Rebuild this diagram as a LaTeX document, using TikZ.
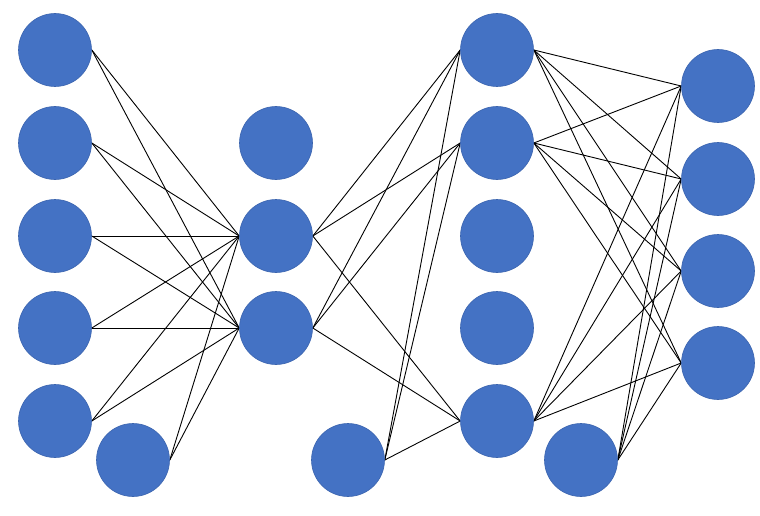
\documentclass[tikz,border=0pt]{standalone}
\usetikzlibrary{backgrounds}
\definecolor{nfill}{HTML}{4472C4}
\definecolor{nborder}{HTML}{3B64AE}
\begin{document}
\begin{tikzpicture}[x=1pt,y=-1pt,
  neuron/.style={circle,fill=nfill,draw=nborder,line width=0.6pt,minimum size=73pt,inner sep=0pt},
  conn/.style={black,line width=0.9pt}]
\useasboundingbox (0,0) rectangle (760,516);
% column 1
\foreach \i/\y in {1/50,2/143,3/236,4/328,5/421} \node[neuron] (a\i) at (55,\y) {};
\node[neuron] (ab) at (133,460) {};
% column 2
\foreach \i/\y in {1/143,2/236,3/328} \node[neuron] (b\i) at (276,\y) {};
\node[neuron] (bb) at (348,460) {};
% column 3
\foreach \i/\y in {1/50,2/143,3/236,4/328,5/421} \node[neuron] (c\i) at (497,\y) {};
\node[neuron] (cb) at (581,460) {};
% column 4
\foreach \i/\y in {1/86,2/179,3/271,4/363} \node[neuron] (d\i) at (718,\y) {};
\begin{scope}[on background layer]
\foreach \s in {a1,a2,a3,a4,a5,ab}
  \foreach \t in {b2,b3}
    \draw[conn] (\s.east) -- (\t.west);
\foreach \s in {b2,b3,bb}
  \foreach \t in {c1,c2,c5}
    \draw[conn] (\s.east) -- (\t.west);
\foreach \s in {c1,c2,c5,cb}
  \foreach \t in {d1,d2,d3,d4}
    \draw[conn] (\s.east) -- (\t.west);
\end{scope}
\end{tikzpicture}
\end{document}
